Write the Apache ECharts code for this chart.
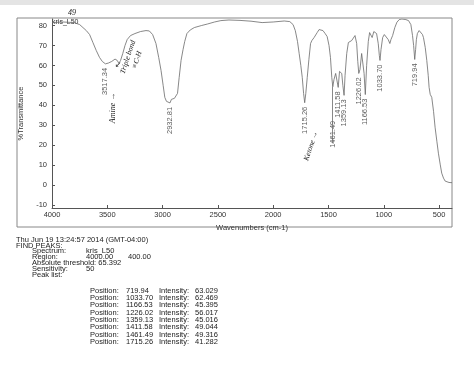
<!DOCTYPE html>
<html>
<head>
<meta charset="utf-8">
<script src="https://cdn.jsdelivr.net/npm/echarts@6/dist/echarts.min.js"></script>
<style>
html,body{margin:0;padding:0;background:#fff;}
#main{width:474px;height:366px;}
</style>
</head>
<body>
<div id="main"></div>
<script>
// spectrum trace [wavenumber, %T]
var spectrum = [
[4000,81.5],[3900,81.8],[3800,81.5],[3750,80.5],[3720,79],[3690,77.5],[3660,75.5],[3630,71.5],
[3600,67.5],[3570,64],[3545,62],[3517,60.8],[3490,61.2],[3460,62],[3430,63.2],[3410,62.5],
[3395,61],[3380,62.5],[3360,66],[3340,70],[3320,73],[3290,75],[3250,76],[3200,77],[3150,77.5],
[3120,77.3],[3090,75.5],[3060,71],[3035,64],[3014,57.5],[2995,50],[2980,44],[2965,42],[2950,41.5],
[2933,41.2],[2920,43],[2908,44],[2893,43.5],[2878,43],[2865,46],[2850,54],[2833,62.5],[2815,68],
[2800,72],[2780,76],[2750,77.8],[2713,79],[2650,80],[2593,80.8],[2530,81.8],[2473,82.5],[2400,82.8],
[2300,82.6],[2200,82.2],[2100,81.5],[2000,81.8],[1900,82.3],[1850,82],[1820,80.5],[1800,77.5],
[1780,72],[1765,66],[1750,60],[1737,54],[1725,46],[1715,41.3],[1705,46],[1692,54],[1677,63],
[1662,71],[1650,72.5],[1630,74],[1602,76.5],[1585,78],[1570,78.5],[1550,77.5],[1530,76],[1512,74.5],
[1495,70],[1482,64],[1470,54],[1461,49.3],[1450,53],[1435,56],[1425,55],[1412,49],[1400,57],
[1390,58],[1380,56],[1370,50],[1359,45],[1350,55],[1335,66],[1320,71.5],[1305,71],[1290,72.5],
[1275,72],[1260,75],[1245,71],[1235,62],[1226,56],[1215,58],[1200,66],[1188,67],[1178,56],
[1167,45.4],[1155,60],[1140,72],[1128,76.5],[1118,77.5],[1105,74],[1090,77],[1077,78],[1065,76],
[1050,71],[1040,65],[1034,62.5],[1025,68],[1010,74],[995,75.5],[980,74.5],[960,73],[945,71],
[935,73],[920,75],[900,79],[881,81.7],[860,83],[836,83.3],[800,83],[776,82.5],[755,80.5],[740,75],
[730,70],[720,63],[712,68],[705,73],[696,76],[680,77.5],[665,77.2],[650,75.5],[641,74],[625,69],
[611,62.5],[598,55],[590,49],[580,45.5],[566,44],[550,37],[536,29],[520,22],[506,16],[490,10.5],
[476,6],[460,3.5],[445,2],[431,1.7],[410,1.3],[383,1.2]
];

// peak list from the report
var peakPos = [719.94, 1033.70, 1166.53, 1226.02, 1359.13, 1411.58, 1461.49, 1715.26];
var peakInt = [63.029, 62.469, 45.395, 56.017, 45.016, 49.044, 49.316, 41.282];
// the two peaks that are not in the threshold list but labelled on the plot
var extraPos = [3517.34, 2932.81];
var extraInt = [60.8, 41.2];

var xTicks = [4000, 3500, 3000, 2500, 2000, 1500, 1000, 500];
var yTicks = [-10, 0, 10, 20, 30, 40, 50, 60, 70, 80];

var reportHead = [
  'Thu Jun 19 13:24:57 2014 (GMT-04:00)',
  'FIND PEAKS:'
];
var reportFields = [
  ['Spectrum:', 'kris_L50', ''],
  ['Region:', '4000.00', '400.00'],
  ['Absolute threshold: 65.392', '', ''],
  ['Sensitivity:', '50', ''],
  ['Peak list:', '', '']
];

var dom = document.getElementById('main');
var myChart = echarts.init(dom);

var FONT = 'Liberation Sans';
var ink = '#333';

var peakData = [];
for (var i = 0; i < extraPos.length; i++) peakData.push([extraPos[i], extraInt[i]]);
for (var j = 0; j < peakPos.length; j++) peakData.push([peakPos[j], peakInt[j]]);

// label drop below the peak (px)
var labelDrop = {1461.49: 30};

var peakItems = peakData.map(function (d) {
  return {
    value: d,
    label: { distance: 4 + (labelDrop[d[0]] || 0) }
  };
});

// scan edge, frame, handwriting
var graphics = [
  { type: 'rect', shape: { x: 0, y: 0, width: 474, height: 5 }, style: { fill: '#e4e4e4' }, silent: true },
  { type: 'rect', shape: { x: 17, y: 18, width: 435, height: 209 }, style: { fill: 'none', stroke: '#888', lineWidth: 1 }, silent: true },
  { type: 'text', left: 52, top: 19, style: { text: 'kris_L50', font: '7px ' + FONT, fill: ink } },
  { type: 'text', left: 68, top: 9, style: { text: '49', font: 'italic 8px "Liberation Serif"', fill: '#222' } },
  { type: 'text', x: 113, y: 108, rotation: Math.PI / 2, style: { text: 'Amine \u2192', font: 'italic 8px "Liberation Serif"', fill: '#222', align: 'center', verticalAlign: 'middle' } },
  { type: 'text', x: 128, y: 57, rotation: 1.25, style: { text: 'Triple bond', font: 'italic 7.5px "Liberation Serif"', fill: '#222', align: 'center', verticalAlign: 'middle' } },
  { type: 'text', x: 137, y: 60, rotation: 1.25, style: { text: '\u2261C-H', font: 'italic 7.5px "Liberation Serif"', fill: '#222', align: 'center', verticalAlign: 'middle' } },
  { type: 'text', x: 118, y: 65, style: { text: '\u2199', font: '8px "DejaVu Sans"', fill: '#222', align: 'center', verticalAlign: 'middle' } },
  { type: 'text', x: 311, y: 146, rotation: 1.25, style: { text: 'Ketone \u2192', font: 'italic 7.5px "Liberation Serif"', fill: '#222', align: 'center', verticalAlign: 'middle' } }
];

// report text under the plot
var ty = 240;
reportHead.forEach(function (t) {
  graphics.push({ type: 'text', x: 16, y: ty, style: { text: t, font: '7.5px ' + FONT, fill: '#222', verticalAlign: 'middle' } });
  ty += 5.7;
});
reportFields.forEach(function (r) {
  graphics.push({ type: 'text', x: 32, y: ty, style: { text: r[0], font: '7.5px ' + FONT, fill: '#222', verticalAlign: 'middle' } });
  if (r[1]) graphics.push({ type: 'text', x: 86, y: ty, style: { text: r[1], font: '7.5px ' + FONT, fill: '#222', verticalAlign: 'middle' } });
  if (r[2]) graphics.push({ type: 'text', x: 128, y: ty, style: { text: r[2], font: '7.5px ' + FONT, fill: '#222', verticalAlign: 'middle' } });
  ty += 5.9;
});
for (var k = 0; k < peakPos.length; k++) {
  var yy = 290.7 + k * 7.3;
  graphics.push({ type: 'text', x: 90, y: yy, style: { text: 'Position:', font: '7.5px ' + FONT, fill: '#222', verticalAlign: 'middle' } });
  graphics.push({ type: 'text', x: 126, y: yy, style: { text: peakPos[k].toFixed(2), font: '7.5px ' + FONT, fill: '#222', verticalAlign: 'middle' } });
  graphics.push({ type: 'text', x: 159, y: yy, style: { text: 'Intensity:', font: '7.5px ' + FONT, fill: '#222', verticalAlign: 'middle' } });
  graphics.push({ type: 'text', x: 195, y: yy, style: { text: peakInt[k].toFixed(3), font: '7.5px ' + FONT, fill: '#222', verticalAlign: 'middle' } });
}

option = {
  backgroundColor: '#fff',
  animation: false,
  grid: { left: 52, right: 22, top: 19, bottom: 158 },
  xAxis: {
    type: 'value',
    inverse: true,
    min: 383,
    max: 4000,
    name: 'Wavenumbers (cm-1)',
    nameLocation: 'middle',
    nameGap: 14,
    nameTextStyle: { fontFamily: FONT, fontSize: 7.5, color: ink },
    axisLine: { onZero: false, lineStyle: { color: '#555', width: 1 } },
    axisTick: { customValues: xTicks, length: 3, inside: true, lineStyle: { color: '#555' } },
    axisLabel: {
      customValues: xTicks, fontFamily: FONT, fontSize: 7.5, color: ink, margin: 3,
      formatter: function (v) { return String(v); }
    },
    splitLine: { show: false }
  },
  yAxis: {
    type: 'value',
    min: -11.5,
    max: 83.3,
    name: '%Transmittance',
    nameLocation: 'middle',
    nameGap: 21,
    nameTextStyle: { fontFamily: FONT, fontSize: 7.5, color: ink },
    axisLine: { show: true, lineStyle: { color: '#555', width: 1 } },
    axisTick: { customValues: yTicks, length: 3, inside: true, lineStyle: { color: '#555' } },
    axisLabel: { customValues: yTicks, fontFamily: FONT, fontSize: 7.5, color: ink, margin: 5 },
    splitLine: { show: false }
  },
  series: [
    {
      name: 'kris_L50',
      type: 'line',
      data: spectrum,
      symbol: 'none',
      lineStyle: { color: '#6a6a6a', width: 0.8 },
      silent: true,
      markLine: {
        silent: true,
        symbol: 'none',
        label: { show: false },
        lineStyle: { color: '#6a6a6a', width: 0.8, type: 'solid' },
        data: [[{ coord: [1461.49, 49.316] }, { coord: [1461.49, 21] }]]
      }
    },
    {
      name: 'peaks',
      type: 'scatter',
      data: peakItems,
      symbolSize: 0,
      silent: true,
      label: {
        show: true,
        position: 'bottom',
        rotate: 90,
        align: 'right',
        verticalAlign: 'middle',
        fontFamily: FONT,
        fontSize: 7.5,
        color: ink,
        formatter: function (p) { return p.value[0].toFixed(2); }
      }
    }
  ],
  graphic: graphics
};

myChart.setOption(option, true);
</script>
</body>
</html>
